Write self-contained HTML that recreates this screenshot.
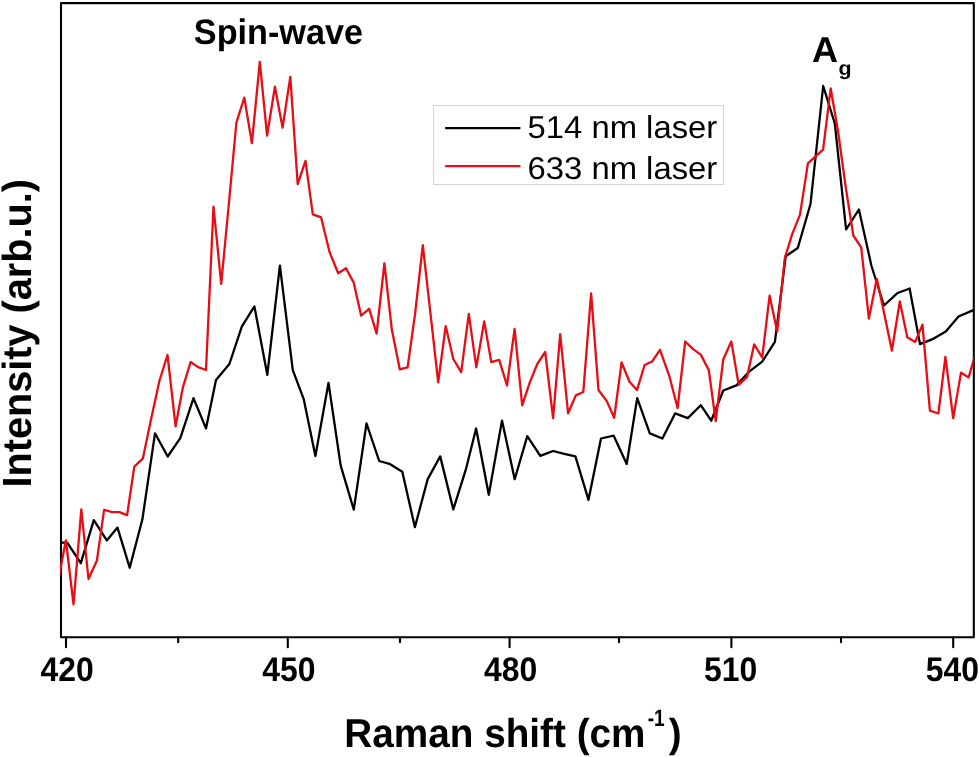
<!DOCTYPE html>
<html><head><meta charset="utf-8"><title>Raman spectra</title>
<style>
html,body{margin:0;padding:0;background:#fff;}
body{width:979px;height:757px;overflow:hidden;}
svg{display:block;}
text{font-family:"Liberation Sans",Arial,sans-serif;fill:#000;text-rendering:geometricPrecision;}
</style></head><body>
<svg width="979" height="757" viewBox="0 0 979 757">
<rect x="0" y="0" width="979" height="757" fill="#fff"/>
<defs><clipPath id="pa"><rect x="60.0" y="3.1" width="913.8" height="634.2"/></clipPath></defs>
<g stroke="#000" stroke-width="2.1" stroke-linecap="round"><line x1="66.0" y1="637.3" x2="66.0" y2="647.2"/><line x1="287.8" y1="637.3" x2="287.8" y2="647.2"/><line x1="509.6" y1="637.3" x2="509.6" y2="647.2"/><line x1="731.4" y1="637.3" x2="731.4" y2="647.2"/><line x1="953.2" y1="637.3" x2="953.2" y2="647.2"/><line x1="178.2" y1="637.3" x2="178.2" y2="642.2"/><line x1="400.0" y1="637.3" x2="400.0" y2="642.2"/><line x1="619.0" y1="637.3" x2="619.0" y2="642.2"/><line x1="841.0" y1="637.3" x2="841.0" y2="642.2"/></g>
<rect x="61.0" y="3.1" width="912.8" height="634.2" fill="none" stroke="#000" stroke-width="2.1" stroke-linejoin="round"/>
<g clip-path="url(#pa)" fill="none" stroke-width="2.3" stroke-linejoin="round" stroke-linecap="round">
<polyline stroke="#000" points="54.5,542.6 67.2,542.6 80.8,563.2 93.8,520.1 106.8,540.4 117.5,527.6 129.7,567.7 142.4,519.3 155.0,433.3 167.7,456.5 180.3,438.1 193.5,398.2 206.0,428.4 216.0,380.0 229.4,364.0 241.8,326.7 254.4,306.4 267.3,374.8 279.9,265.7 292.8,370.1 303.7,399.1 315.4,456.1 328.5,382.8 340.7,465.6 353.8,509.6 366.5,423.4 379.2,461.0 389.4,463.8 402.3,471.7 414.9,527.2 427.7,479.1 440.2,456.4 453.3,509.4 465.8,469.7 476.1,428.5 488.8,494.8 502.0,420.6 514.7,479.2 527.3,436.1 540.3,455.8 553.1,451.0 564.3,453.9 575.4,456.3 588.5,499.8 601.0,438.5 613.7,435.7 626.7,464.0 637.2,398.1 649.8,433.4 662.4,438.5 675.1,413.4 687.8,418.1 700.8,405.2 711.2,420.7 723.3,390.5 736.4,385.4 749.5,371.3 762.2,361.7 774.9,341.9 785.7,256.3 797.8,248.0 810.5,204.0 823.2,86.0 834.8,123.5 846.1,229.5 858.9,209.5 871.5,266.0 884.0,305.5 897.1,293.3 909.6,288.5 920.0,344.1 932.0,339.4 945.8,331.4 958.5,316.5 972.2,310.6 984.9,305.0"/>
<polyline stroke="#e80c14" points="58.1,581.0 65.9,540.3 73.5,604.3 81.3,509.5 88.5,579.0 96.9,560.5 104.1,509.8 112.3,512.2 119.4,512.2 127.1,515.1 134.3,466.7 142.8,458.7 150.8,420.4 159.5,380.5 167.5,355.0 175.6,426.3 182.9,387.3 190.6,362.0 198.1,367.1 206.0,370.0 213.5,206.7 221.2,283.8 228.8,204.3 236.4,122.5 244.3,97.6 251.9,143.2 259.8,61.9 267.1,135.6 274.9,86.7 282.6,127.7 290.3,76.8 297.7,184.2 305.5,160.9 312.8,214.4 321.1,217.4 329.7,252.5 338.2,273.3 346.0,268.2 353.7,282.6 361.1,315.6 369.2,308.8 376.6,333.5 384.4,263.4 391.8,329.3 399.8,369.4 407.6,367.3 415.0,314.5 422.8,245.2 430.5,313.7 438.2,382.4 445.7,326.1 453.3,359.0 461.2,372.1 468.8,313.9 476.3,367.4 484.2,321.4 491.3,362.1 499.2,359.9 507.0,385.5 514.6,328.8 522.2,405.4 529.8,382.4 537.2,364.2 545.2,352.0 553.1,418.1 560.2,334.1 568.1,413.3 575.8,395.4 583.3,392.0 591.1,293.3 598.5,390.0 606.8,401.1 614.2,417.7 621.6,362.5 629.5,381.7 637.0,390.1 644.6,365.0 652.1,361.5 660.0,349.8 669.5,376.7 677.6,408.0 685.2,341.5 693.1,349.1 700.8,354.6 708.8,370.1 715.7,421.0 723.3,359.2 731.3,341.5 738.7,384.8 747.1,376.8 754.2,344.3 762.2,357.5 769.6,295.6 777.2,331.6 784.8,258.1 792.2,234.1 800.0,214.6 807.9,163.4 815.5,156.4 823.1,149.6 830.7,88.5 838.0,131.0 845.5,185.6 853.3,235.5 861.2,247.3 868.9,318.6 876.8,278.8 884.4,314.4 891.9,350.5 899.8,301.5 907.3,337.2 915.1,342.0 922.5,324.6 929.9,410.7 938.4,413.5 945.4,356.8 953.2,418.1 961.0,372.6 968.6,377.5 976.2,351.3"/>
</g>
<text transform="translate(67.09,680.90) scale(0.9380,1)" font-size="34.0" font-weight="bold" text-anchor="middle">420</text><text transform="translate(288.94,680.90) scale(0.9380,1)" font-size="34.0" font-weight="bold" text-anchor="middle">450</text><text transform="translate(510.59,680.90) scale(0.9380,1)" font-size="34.0" font-weight="bold" text-anchor="middle">480</text><text transform="translate(730.59,680.90) scale(0.9380,1)" font-size="34.0" font-weight="bold" text-anchor="middle">510</text><text transform="translate(952.34,680.90) scale(0.9380,1)" font-size="34.0" font-weight="bold" text-anchor="middle">540</text>
<text transform="translate(193.83,44.00) scale(0.9667,1)" font-size="35.4" font-weight="bold">Spin-wave</text><text transform="translate(812.10,61.90) scale(1.0000,1)" font-size="36.1" font-weight="bold">A</text><text transform="translate(838.40,74.60) scale(1.0700,1)" font-size="20" font-weight="bold">g</text><text transform="translate(344.26,746.80) scale(0.9610,1)" font-size="40.3" font-weight="bold">Raman shift (cm</text><text transform="translate(647.69,726.20) scale(0.8100,1)" font-size="23.7" font-weight="bold">-1</text><text transform="translate(668.86,746.80) scale(0.9610,1)" font-size="40.3" font-weight="bold">)</text>
<rect x="433.5" y="105.5" width="290" height="79" fill="#fff" stroke="#d4d4d4" stroke-width="1"/>
<line x1="446" y1="128.1" x2="519.5" y2="128.1" stroke="#000" stroke-width="2.3" stroke-linecap="round"/>
<line x1="446" y1="166.2" x2="519.5" y2="166.2" stroke="#e80c14" stroke-width="2.3" stroke-linecap="round"/>
<text transform="translate(527.62,138.40) scale(1.0350,1)" font-size="31.7">514 nm laser</text><text transform="translate(527.62,179.00) scale(1.0350,1)" font-size="31.7">633 nm laser</text>
<text transform="translate(30.5,487.58) rotate(-90) scale(0.975,1)" font-size="40.7" font-weight="bold">Intensity (arb.u.)</text>
</svg>
</body></html>
